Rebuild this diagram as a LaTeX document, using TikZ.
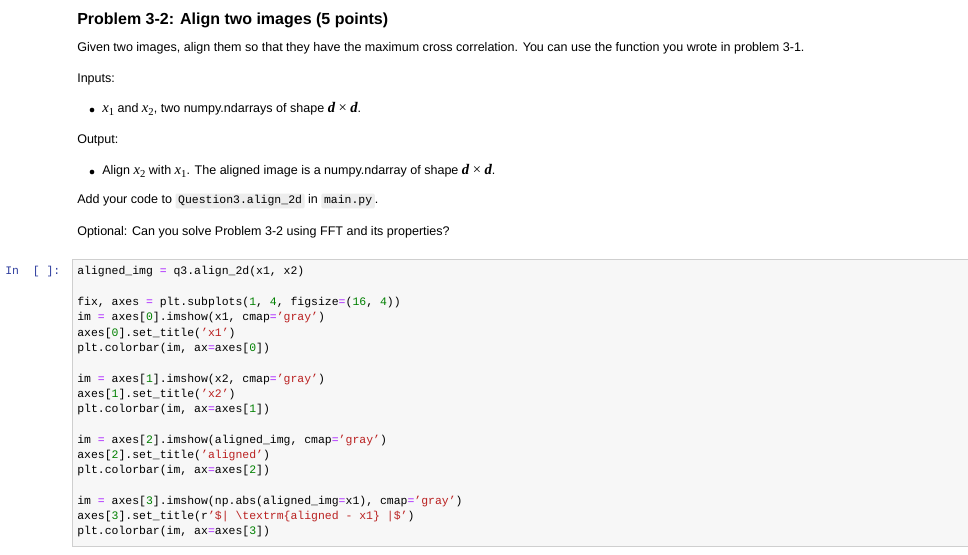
\documentclass[tikz,border=0pt]{standalone}
\usepackage{fontspec}
\setmainfont{Liberation Sans}
\setmonofont{Liberation Mono}
\newfontfamily\mserif{Liberation Serif}
\definecolor{eqc}{HTML}{AA22FF}
\definecolor{numc}{HTML}{008000}
\definecolor{strc}{HTML}{BA2121}
\definecolor{promptc}{HTML}{303F9F}
\definecolor{cellbg}{HTML}{F7F7F7}
\definecolor{cellbd}{HTML}{CFCFCF}
\newcommand{\eq}{\textcolor{eqc}{=}}
\newcommand{\nm}[1]{\textcolor{numc}{#1}}
\newcommand{\st}[1]{\textcolor{strc}{#1}}
\newcommand{\ic}[1]{\tikz[baseline=(q.base)]\node[fill=black!7,inner xsep=2pt,inner ysep=1.5pt,rounded corners=1pt](q){\ttfamily\fontsize{8.6}{10}\selectfont #1};}
\newcommand{\mx}[1]{{\mserif\itshape\fontsize{11}{12}\selectfont x}\raisebox{-0.35ex}{\mserif\fontsize{8}{8}\selectfont #1}}
\newcommand{\dxd}{{\fontsize{11}{12}\selectfont\mserif\bfseries\itshape d} {\fontsize{11}{12}\selectfont\mserif ×} {\fontsize{11}{12}\selectfont\mserif\bfseries\itshape d}}
\begin{document}
\begin{tikzpicture}[x=0.75pt,y=-0.75pt,
  txt/.style={anchor=west,inner sep=0pt,font=\fontsize{9.4}{11}\selectfont},
  code/.style={anchor=west,inner sep=0pt,font=\ttfamily\fontsize{8.6}{10}\selectfont},
  bul/.style={circle,fill=black,inner sep=0pt,minimum size=3.5pt}]
\useasboundingbox (0,0) rectangle (968,555);
\fill[white] (0,0) rectangle (968,555);
\node[txt,font=\bfseries\fontsize{12}{14}\selectfont] (title) at (77,20) {Problem 3-2: Align two images (5 points)};
\node[txt] (p1) at (77,48) {Given two images, align them so that they have the maximum cross correlation. You can use the function you wrote in problem 3-1.};
\node[txt] (inp) at (77,79) {Inputs:};
\node[bul] (b1) at (92,110) {};
\node[txt] (l1) at (102,109) {\mx{1} and \mx{2}, two numpy.ndarrays of shape \dxd.};
\node[txt] (out) at (77,140) {Output:};
\node[bul] (b2) at (92,172) {};
\node[txt] (l2) at (102,171) {Align \mx{2} with \mx{1}. The aligned image is a numpy.ndarray of shape \dxd.};
\node[txt] (add) at (77,201) {Add your code to \ic{Question3.align\_2d} in \ic{main.py}.};
\node[txt] (opt) at (77,232) {Optional: Can you solve Problem 3-2 using FFT and its properties?};
\node[code,text=promptc] (prompt) at (5,272) {In\ \ [ ]:};
\draw[cellbd,fill=cellbg] (72,259) rectangle (968,546);
\node[code] (c1) at (77,272) {aligned\_img \eq{} q3.align\_2d(x1, x2)};
\node[code] (c2) at (77,303) {fix, axes \eq{} plt.subplots(\nm{1}, \nm{4}, figsize\eq(\nm{16}, \nm{4}))};
\node[code] (c3) at (77,318) {im \eq{} axes[\nm{0}].imshow(x1, cmap\eq\st{’gray’})};
\node[code] (c4) at (77,334) {axes[\nm{0}].set\_title(\st{’x1’})};
\node[code] (c5) at (77,349) {plt.colorbar(im, ax\eq axes[\nm{0}])};
\node[code] (c6) at (77,380) {im \eq{} axes[\nm{1}].imshow(x2, cmap\eq\st{’gray’})};
\node[code] (c7) at (77,395) {axes[\nm{1}].set\_title(\st{’x2’})};
\node[code] (c8) at (77,410) {plt.colorbar(im, ax\eq axes[\nm{1}])};
\node[code] (c9) at (77,441) {im \eq{} axes[\nm{2}].imshow(aligned\_img, cmap\eq\st{’gray’})};
\node[code] (c10) at (77,456) {axes[\nm{2}].set\_title(\st{’aligned’})};
\node[code] (c11) at (77,471) {plt.colorbar(im, ax\eq axes[\nm{2}])};
\node[code] (c12) at (77,502) {im \eq{} axes[\nm{3}].imshow(np.abs(aligned\_img\eq x1), cmap\eq\st{’gray’})};
\node[code] (c13) at (77,517) {axes[\nm{3}].set\_title(r\st{’\$| \textbackslash textrm\{aligned - x1\} |\$’})};
\node[code] (c14) at (77,532) {plt.colorbar(im, ax\eq axes[\nm{3}])};
\end{tikzpicture}
\end{document}
